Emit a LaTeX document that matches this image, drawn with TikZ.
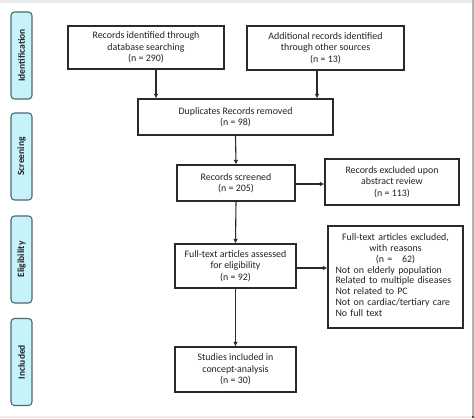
\documentclass[tikz,border=0pt]{standalone}
\usepackage{fontspec}
\setmainfont{Carlito}
\usetikzlibrary{arrows.meta,calc}
\definecolor{sidefill}{HTML}{C6F3FA}
\definecolor{sideline}{HTML}{4D6A6C}
\definecolor{boxline}{HTML}{2A2A2A}
\definecolor{txt}{HTML}{222222}
\tikzset{
  stage/.style={draw=sideline,fill=sidefill,line width=1.1pt,rounded corners=3.5pt,rotate=90,
    minimum width=87pt,minimum height=21pt,inner sep=0pt,font=\fontsize{9.5}{11}\selectfont\bfseries,text=txt},
  flowbox/.style={draw=boxline,line width=1.1pt,align=center,inner sep=2pt,text=txt,
    font=\fontsize{9.9}{11.5}\selectfont},
  arr/.style={draw=boxline,line width=1.1pt,-{Latex[length=4.5pt,width=4.5pt]}}
}
\begin{document}
\begin{tikzpicture}[x=1pt,y=-1pt]
\useasboundingbox (0,0) rectangle (474,418);
\fill[white] (0,0) rectangle (474,418);
% frame strips
\fill[black!8] (0,0) rectangle (474,2.5);
\fill[black!7] (0,415.5) rectangle (474,418);
\fill[black!30] (471.5,0) rectangle (474,416);
\fill[black!70] (471.5,415.5) rectangle (474,418);
% stage labels
\node[stage] (sid) at (21.5,55.5) {Identification};
\node[stage] (sscr) at (21.5,156.5) {Screening};
\node[stage] (sel) at (21.5,259.5) {Eligibility};
\node[stage] (sinc) at (21.5,362) {Included};
% boxes
\node[flowbox,minimum width=156pt,minimum height=43pt] (b1) at (146,47.5)
  {Records identified through\\database searching\\(n = 290)};
\node[flowbox,minimum width=157pt,minimum height=44pt] (b2) at (325.5,48)
  {Additional records identified\\through other sources\\(n = 13)};
\node[flowbox,minimum width=195pt,minimum height=36pt] (dup) at (235.5,117)
  {Duplicates Records removed\\(n = 98)};
\node[flowbox,minimum width=118pt,minimum height=36pt] (scr) at (236,183)
  {Records screened\\(n = 205)};
\node[flowbox,minimum width=134pt,minimum height=46pt] (exa) at (392,182)
  {Records excluded upon\\abstract review\\(n = 113)};
\node[flowbox,minimum width=121pt,minimum height=44pt] (ft) at (235.5,266)
  {Full-text articles assessed\\for eligibility\\(n = 92)};
\node[flowbox,minimum width=135pt,minimum height=102pt,text width=120pt,align=left,
  inner sep=0pt,font=\fontsize{9.9}{10.8}\selectfont] (exb) at (395.5,277)
  {\centering Full-text articles excluded,\\with reasons\\(n =\ \ \ 62)\par
   \raggedright Not on elderly population\\Related to multiple diseases\\Not related to PC\\Not on cardiac/tertiary care\\No full text\par\vspace{4pt}};
\node[flowbox,minimum width=121pt,minimum height=45pt] (inc) at (235.5,369.5)
  {Studies included in\\concept-analysis\\(n = 30)};
% connectors
\draw[arr] ([xshift=10pt]b1.south) -- ([xshift=10pt]b1.south |- dup.north);
\draw[arr] ([xshift=-8.5pt]b2.south) -- ([xshift=-8.5pt]b2.south |- dup.north);
\draw[arr] (dup.south) -- (scr.north);
\draw[arr] ([yshift=-1pt]scr.east) -- ([yshift=-1pt]scr.east -| exa.west);
\draw[arr] (scr.south) -- (ft.north);
\draw[arr] ([yshift=-2pt]ft.east) -- ([yshift=-2pt]ft.east -| exb.west);
\draw[arr] (ft.south) -- (inc.north);
\end{tikzpicture}
\end{document}
